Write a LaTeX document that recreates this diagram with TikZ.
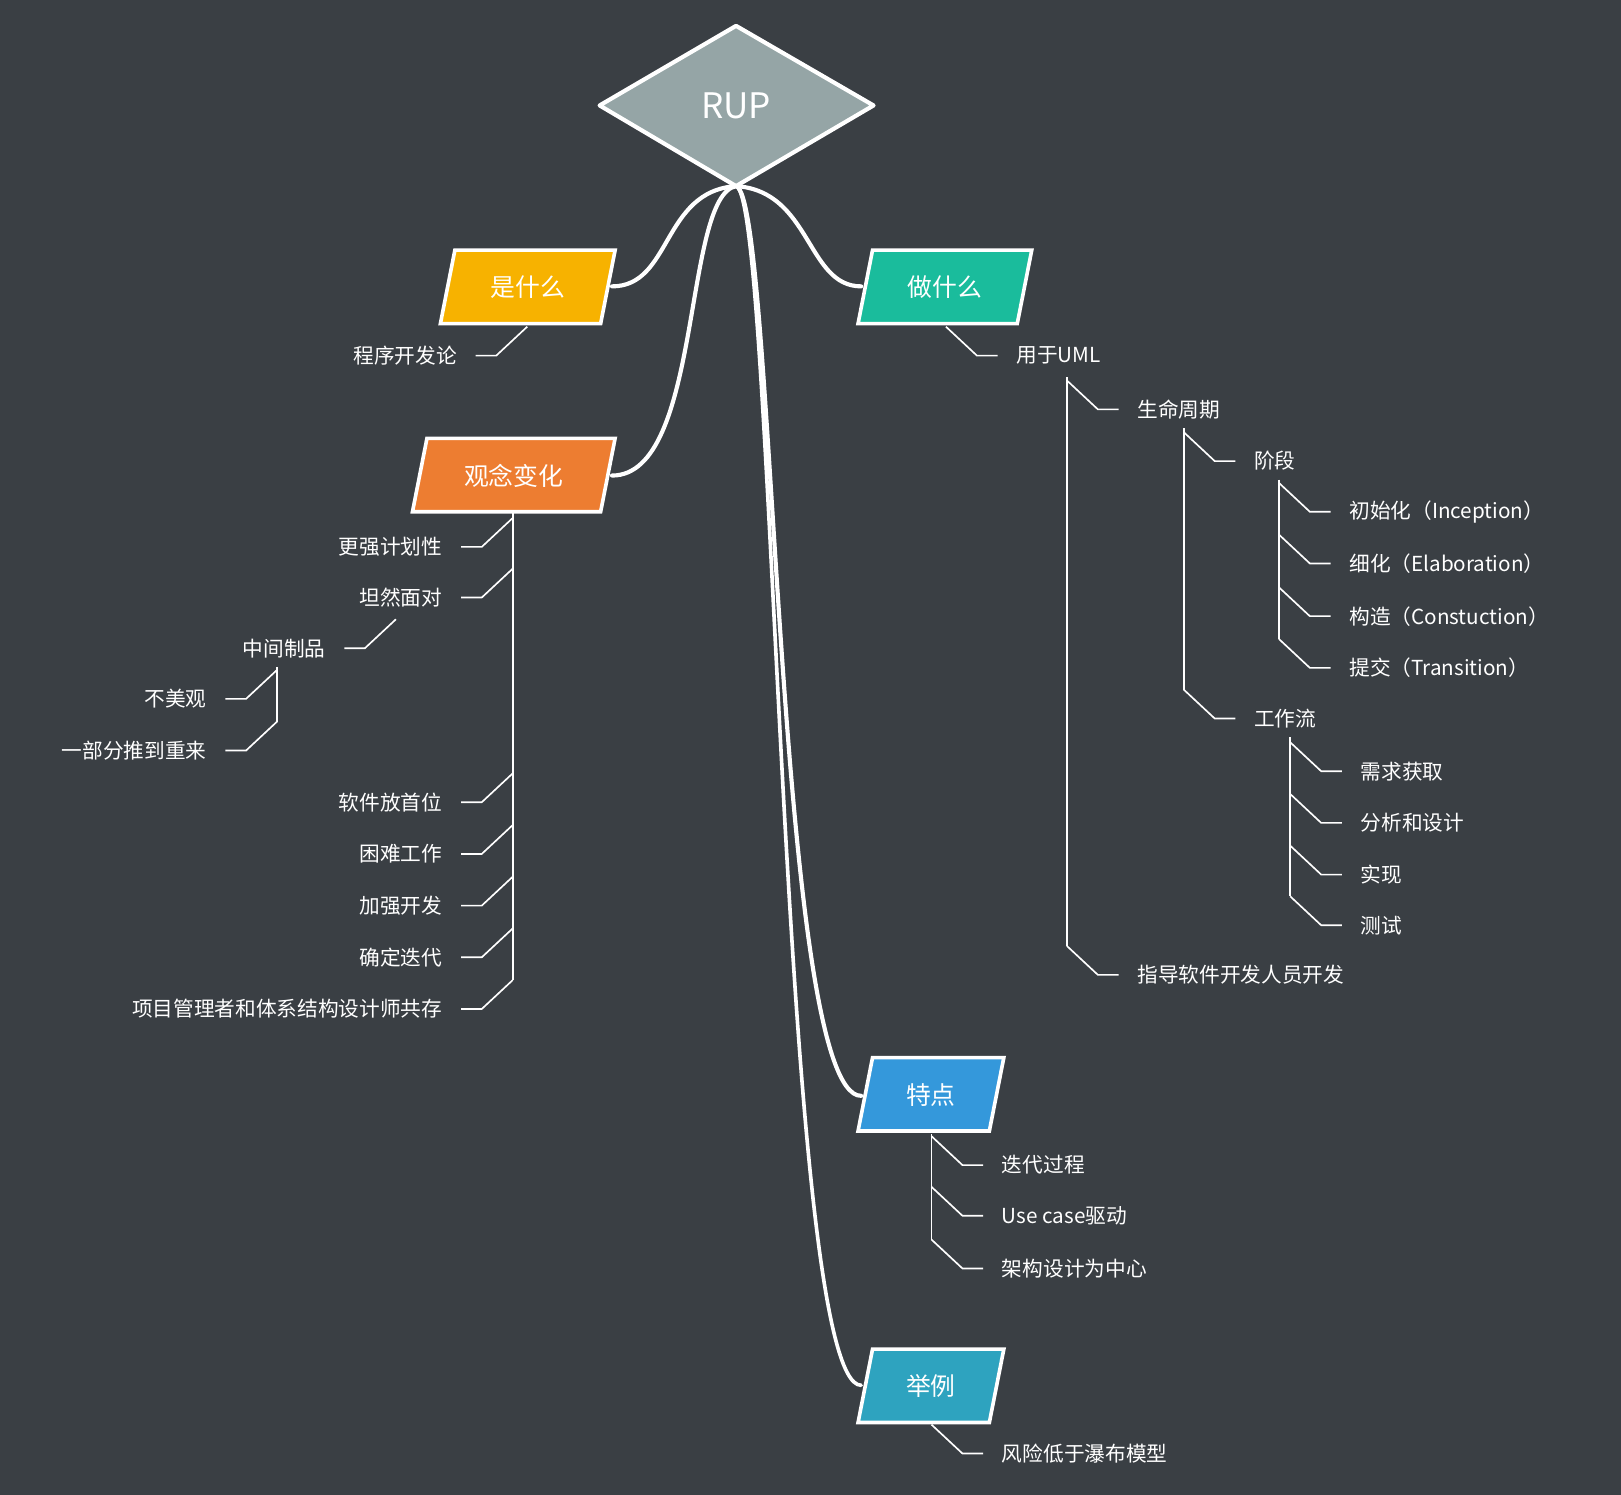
\documentclass[tikz,border=0pt]{standalone}
\usepackage{fontspec}
\setmainfont{Noto Sans CJK SC}
\begin{document}
\begin{tikzpicture}[x=1pt,y=-1pt,
  br/.style={draw=white,line width=4pt,line cap=round},
  tw/.style={draw=white,line width=1.6pt},
  lbl/.style={text=white,font=\fontsize{20}{24}\selectfont,inner sep=0pt},
  tl/.style={text=white,font=\fontsize{24}{28}\selectfont}]
\fill[fill={rgb,255:red,58;green,63;blue,68}] (0,0) rectangle (1568,1446);
\useasboundingbox (0,0) rectangle (1568,1446);
% right child: X, y, name, text
\newcommand\Rc[4]{\draw[tw] (#1,#2-28)--(#1+30,#2)--(#1+50,#2); \node[lbl,anchor=west] (#3) at (#1+68,#2) {#4};}
\newcommand\Lc[4]{\draw[tw] (#1,#2-28)--(#1-30,#2)--(#1-50,#2); \node[lbl,anchor=east] (#3) at (#1-68,#2) {#4};}
% branches
\coordinate (root) at (712,180);
\draw[br] (root) .. controls (640,185) and (650,277) .. (592,277);
\draw[br] (root) .. controls (785,185) and (780,277) .. (833,277);
\draw[br] (root) .. controls (660,190) and (680,460) .. (592,460);
\draw[br] (root) .. controls (750,190) and (750,1060) .. (833,1060);
\draw[br,line width=3.5pt] (root) .. controls (750,190) and (755,1340) .. (833,1340);
% diamond
\draw[white,line width=4pt,fill={rgb,255:red,149;green,165;blue,166},line join=round] (580,102)--(712,25)--(845,102)--(712,180)--cycle;
\node[text=white,font=\fontsize{34}{40}\selectfont] (rup) at (712,102) {RUP};
% parallelograms
\newcommand\Pg[7]{\draw[white,line width=3.5pt,fill={rgb,255:red,#5;green,#6;blue,#7}] (#1+14,#2)--(#3+14,#2)--(#3,#2+71)--(#1,#2+71)--cycle;
 \node[tl] at ({(#1+#3)/2+7},#2+36) {#4};}
\Pg{426}{242}{581}{是什么}{247}{178}{0}
\Pg{830}{242}{984}{做什么}{26}{188}{156}
\Pg{399}{424}{581}{观念变化}{237}{125}{49}
\Pg{830}{1023}{957}{特点}{52}{152}{219}
\Pg{830}{1305}{957}{举例}{46}{163}{191}
% 是什么
\Lc{510}{344}{a1}{程序开发论}
% 观念变化
\draw[tw] (496,495)--(496,948);
\Lc{496}{529}{b1}{更强计划性}
\Lc{496}{578}{b2}{坦然面对}
\Lc{383}{627}{b3}{中间制品}
\draw[tw] (268,645)--(268,698);
\Lc{268}{676}{b4}{不美观}
\Lc{268}{726}{b5}{一部分推到重来}
\Lc{496}{776}{b6}{软件放首位}
\Lc{496}{826}{b7}{困难工作}
\Lc{496}{876}{b8}{加强开发}
\Lc{496}{926}{b9}{确定迭代}
\Lc{496}{976}{b10}{项目管理者和体系结构设计师共存}
% 做什么
\Rc{915}{344}{c1}{用于UML}
\draw[tw] (1032,365)--(1032,915);
\Rc{1032}{396}{c2}{生命周期}
\draw[tw] (1145,414)--(1145,667);
\Rc{1145}{446}{c3}{阶段}
\draw[tw] (1237,464)--(1237,618);
\Rc{1237}{495}{c4}{初始化（Inception）}
\Rc{1237}{545}{c5}{细化（Elaboration）}
\Rc{1237}{596}{c6}{构造（Constuction）}
\Rc{1237}{646}{c7}{提交（Transition）}
\Rc{1145}{695}{c8}{工作流}
\draw[tw] (1248,713)--(1248,867);
\Rc{1248}{746}{c9}{需求获取}
\Rc{1248}{796}{c10}{分析和设计}
\Rc{1248}{846}{c11}{实现}
\Rc{1248}{895}{c12}{测试}
\Rc{1032}{943}{c13}{指导软件开发人员开发}
% 特点
\draw[tw] (901,1097)--(901,1199);
\Rc{901}{1127}{d1}{迭代过程}
\Rc{901}{1176}{d2}{Use case驱动}
\Rc{901}{1227}{d3}{架构设计为中心}
% 举例
\Rc{901}{1406}{e1}{风险低于瀑布模型}
\end{tikzpicture}
\end{document}
